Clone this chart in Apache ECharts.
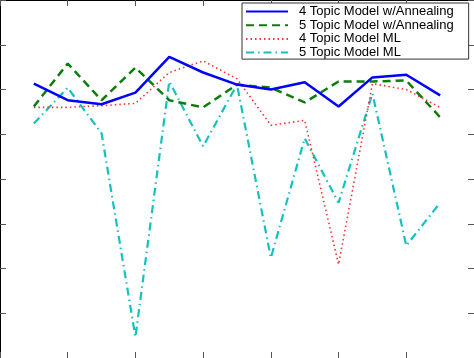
<!DOCTYPE html>
<html>
<head>
<meta charset="utf-8">
<script src="https://cdn.jsdelivr.net/npm/echarts@6/dist/echarts.min.js"></script>
<style>html,body{margin:0;padding:0;background:#fff}#c{width:474px;height:358px}</style>
</head>
<body>
<div id="c"></div>
<script>
const xValues = [1,2,3,4,5,6,7,8,9,10,11,12,13];
const seriesNames = ['4 Topic Model w/Annealing','5 Topic Model w/Annealing','4 Topic Model ML','5 Topic Model ML'];
const anneal4 = [6.13,5.76,5.67,5.93,6.73,6.38,6.11,6.00,6.16,5.62,6.27,6.33,5.87];
const anneal5 = [5.62,6.58,5.76,6.49,5.76,5.60,6.11,6.04,5.71,6.18,6.18,6.20,5.38];
const ml4 = [5.60,5.60,5.64,5.69,6.38,6.64,6.24,5.20,5.31,2.09,6.13,6.00,5.60];
const ml5 = [5.24,6.04,5.02,0.47,6.18,4.73,6.11,2.24,4.91,3.47,5.91,2.51,3.47];

const pairs = arr => arr.map((v,i)=>[xValues[i], v]);
const tick = {show:true, inside:true, length:6, lineStyle:{color:'#555', width:1}};
const axisLine = {show:true, onZero:false, lineStyle:{color:'#000', width:1}};

const chart = echarts.init(document.getElementById('c'));
chart.setOption({
  animation:false,
  grid:{left:-1, right:0, top:-1, bottom:-1},
  xAxis:[
    {type:'value', min:0, max:14, interval:2, axisLine, axisTick:tick, axisLabel:{show:false}, splitLine:{show:false}},
    {type:'value', position:'top', min:0, max:14, interval:2, axisLine, axisTick:tick, axisLabel:{show:false}, splitLine:{show:false}}
  ],
  yAxis:[
    {type:'value', min:0, max:8, interval:1, axisLine, axisTick:tick, axisLabel:{show:false}, splitLine:{show:false}},
    {type:'value', position:'right', min:0, max:8, interval:1, axisLine, axisTick:tick, axisLabel:{show:false}, splitLine:{show:false}}
  ],
  legend:{
    orient:'vertical', left:242, top:3,
    itemWidth:42, itemHeight:12, itemGap:0.7,
    padding:[2,15,0,3],
    itemStyle:{opacity:0},
    backgroundColor:'#fff', borderColor:'#333', borderWidth:1,
    textStyle:{fontFamily:'Liberation Sans, Arial, sans-serif', fontSize:13, lineHeight:12, color:'#000', padding:[0,0,0,6]},
    data:seriesNames
  },
  series:[
    {name:seriesNames[0], type:'line', data:pairs(anneal4), symbol:'none', lineStyle:{color:'#0000ff', width:2.5, type:'solid'}, itemStyle:{color:'#0000ff'}, z:5},
    {name:seriesNames[1], type:'line', data:pairs(anneal5), symbol:'none', lineStyle:{color:'#0a7d0a', width:2.5, type:[8,5]}, itemStyle:{color:'#0a7d0a'}, z:4},
    {name:seriesNames[2], type:'line', data:pairs(ml4), symbol:'none', lineStyle:{color:'#ff3030', width:1.6, type:[1.5,3]}, itemStyle:{color:'#ff3030'}, z:3},
    {name:seriesNames[3], type:'line', data:pairs(ml5), symbol:'none', lineStyle:{color:'#15c0c0', width:2.2, type:[8,4,1.5,4]}, itemStyle:{color:'#15c0c0'}, z:2}
  ]
});
</script>
</body>
</html>
